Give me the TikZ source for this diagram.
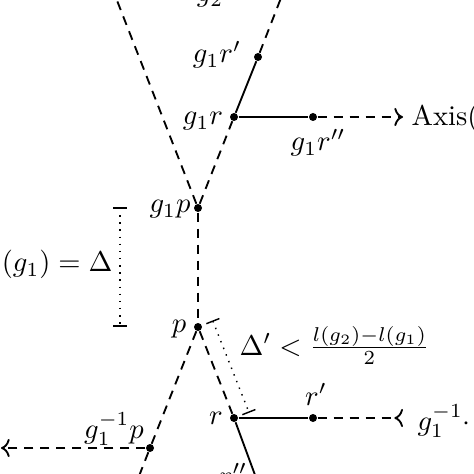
\documentclass[tikz,border=0pt]{standalone}
\usetikzlibrary{arrows.meta,calc}
\begin{document}
\begin{tikzpicture}[x=0.35pt,y=-0.35pt,
  dot/.style={circle,fill,inner sep=0pt,minimum size=2.8pt},
  edge/.style={line width=0.65pt},
  dashedge/.style={line width=0.65pt,dash pattern=on 3.2pt off 2.4pt},
  dotline/.style={line width=0.5pt,dotted},
  tick/.style={line width=0.5pt},
  lbl/.style={anchor=base,inner sep=0pt}]
\useasboundingbox (0,0) rectangle (474,474);
\clip (0,0) rectangle (474,474);
% points
\node[dot] (g1p) at (198,208) {};
\node[dot] (p) at (198,327) {};
\node[dot] (g1r) at (234,117) {};
\node[dot] (g1rp) at (258,57) {};
\node[dot] (g1rpp) at (313,117) {};
\node[dot] (r) at (234,418) {};
\node[dot] (rp) at (313,418) {};
\node[dot] (gip) at (150,448) {};
\coordinate (topL) at (109,-20);
\coordinate (topR) at (288,-20);
\coordinate (axisEnd) at (403,117);
\coordinate (axisEndB) at (403,418);
\coordinate (leftEnd) at (1,448);
\coordinate (botL) at (132,494);
\coordinate (rpp) at (262,494);
% connectors
\draw[dashedge] (g1p) -- (topL);
\draw[dashedge] (g1p) -- (g1r);
\draw[dashedge] (g1rp) -- (topR);
\draw[edge] (g1r) -- (g1rp);
\draw[edge] (g1r) -- (g1rpp);
\draw[dashedge,-{To}] (g1rpp) -- (axisEnd);
\draw[dashedge] (g1p) -- (p);
\draw[dashedge] (p) -- (r);
\draw[dashedge] (p) -- (gip);
\draw[dashedge] (gip) -- (botL);
\draw[dashedge,-{To}] (gip) -- (leftEnd);
\draw[edge] (r) -- (rp);
\draw[edge] (r) -- (rpp);
\draw[dashedge,-{To[reversed]}] (rp) -- (axisEndB);
% bracket for Delta
\coordinate (bt) at (120,208);
\coordinate (bb) at (120,326);
\draw[tick] ($(bt)+(-7,0)$) -- ($(bt)+(7,0)$);
\draw[tick] ($(bb)+(-7,0)$) -- ($(bb)+(7,0)$);
\draw[dotline] (bt) -- (bb);
% bracket for Delta'
\draw[tick] ($(p.center)!3.15pt!90:(r.center)$) -- ($(p.center)!8.05pt!90:(r.center)$);
\draw[tick] ($(r.center)!3.15pt!-90:(p.center)$) -- ($(r.center)!8.05pt!-90:(p.center)$);
\draw[dotline] ($(p.center)!5.6pt!90:(r.center)$) -- ($(r.center)!5.6pt!-90:(p.center)$);
% labels
\node[lbl] (Lg2) at (210,2) {$g_2$};
\node[lbl] (Lg1rp) at (217,63) {$g_1r'$};
\node[lbl] (Lg1r) at (203,125) {$g_1r$};
\node[lbl] (Lg1p) at (170,213) {$g_1p$};
\node[lbl] (Lg1rpp) at (318,151) {$g_1r''$};
\node[lbl,anchor=base west] (Laxis) at (411,126) {Axis(};
\node[lbl,anchor=base east] (Ldelta) at (113,272) {$(g_1) = \Delta$};
\node[lbl] (Lp) at (179,332) {$p$};
\node[lbl,anchor=base west] (Ldp) at (239,355) {$\Delta' < \frac{l(g_2)-l(g_1)}{2}$};
\node[lbl] (Lr) at (216,424) {$r$};
\node[lbl] (Lrp) at (316,405) {$r'$};
\node[lbl,anchor=base west] (Lgi) at (417,430) {$g_1^{-1}\cdot$};
\node[lbl] (Lgip) at (114,438) {$g_1^{-1}p$};
\node[lbl] (Lrpp) at (233,485) {$r''$};
\end{tikzpicture}
\end{document}
